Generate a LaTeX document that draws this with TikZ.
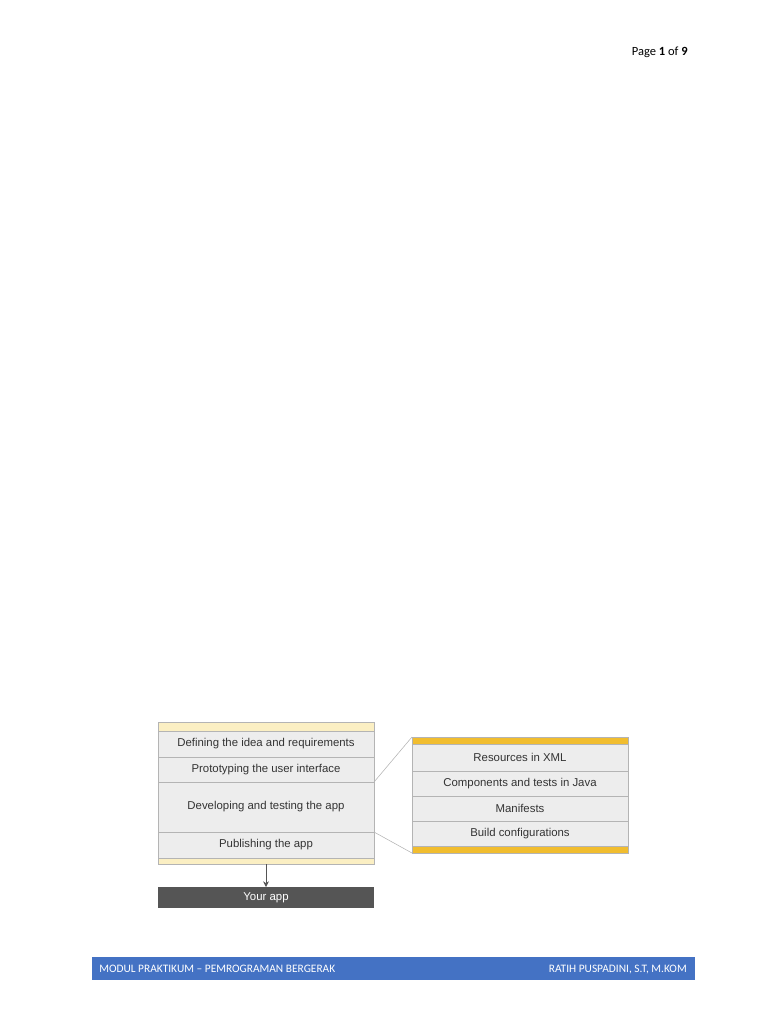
\documentclass[tikz,border=0pt]{standalone}
\usepackage{fontspec}
\setmainfont{Liberation Sans}
\newfontfamily\calfont{Carlito}
\usetikzlibrary{arrows.meta}
\definecolor{rowgray}{HTML}{EDEDED}
\definecolor{edgegray}{HTML}{B4B4B4}
\definecolor{paleband}{HTML}{FBEFC3}
\definecolor{goldband}{HTML}{F1BD2F}
\definecolor{appgray}{HTML}{555555}
\definecolor{footblue}{HTML}{4472C4}
\tikzset{
  row/.style={draw=edgegray, fill=rowgray, minimum width=5.4cm, inner sep=0pt, outer sep=0pt, font=\fontsize{8.1}{9}\selectfont, text=black!80},
  band/.style={row, minimum height=#1},
  foottext/.style={inner sep=0pt, text=white, font=\calfont\fontsize{8.1}{10}\selectfont},
}
\begin{document}
\begin{tikzpicture}[x=0.025cm, y=-0.025cm]
\useasboundingbox (0,0) rectangle (768,1024);
% header
\node[anchor=base east, inner sep=0pt, font=\calfont\fontsize{8.9}{10}\selectfont] (page) at (688,56) {Page \textbf{1} of \textbf{9}};
% left stack
\node[band=0.225cm, fill=paleband] (ltop) at (266,726.5){};
\node[row, minimum height=0.65cm] (define) at (266,744){Defining the idea and requirements};
\node[row, minimum height=0.625cm] (proto) at (266,769.5){Prototyping the user interface};
\node[row, minimum height=1.25cm] (develop) at (266,807){Developing and testing the app};
\node[row, minimum height=0.65cm] (publish) at (266,845){Publishing the app};
\node[band=0.15cm, fill=paleband] (lbot) at (266,861){};
\node[row, draw=none, fill=appgray, text=white, minimum height=0.525cm] (app) at (266,897.5){Your app};
\draw[appgray, -{Stealth[length=4pt, width=4pt]}] (lbot) -- (app);
% right stack
\node[band=0.175cm, fill=goldband] (rtop) at (520,740.5){};
\node[row, minimum height=0.675cm] (xml) at (520,757.5){Resources in XML};
\node[row, minimum height=0.625cm] (java) at (520,783.5){Components and tests in Java};
\node[row, minimum height=0.625cm] (manifest) at (520,808.5){Manifests};
\node[row, minimum height=0.625cm] (build) at (520,833.5){Build configurations};
\node[band=0.175cm, fill=goldband] (rbot) at (520,849.5){};
\draw[edgegray] (proto.south east) -- (rtop.north west);
\draw[edgegray] (develop.south east) -- (rbot.south west);
% footer
\node[fill=footblue, minimum width=15.075cm, minimum height=0.575cm, inner sep=0pt] (foot) at (393.5,968.5){};
\node[foottext, anchor=base west] (modul) at (99,972){MODUL PRAKTIKUM \textendash{} PEMROGRAMAN BERGERAK};
\node[foottext, anchor=base east] (author) at (687,972){RATIH PUSPADINI, S.T, M.KOM};
\end{tikzpicture}
\end{document}
